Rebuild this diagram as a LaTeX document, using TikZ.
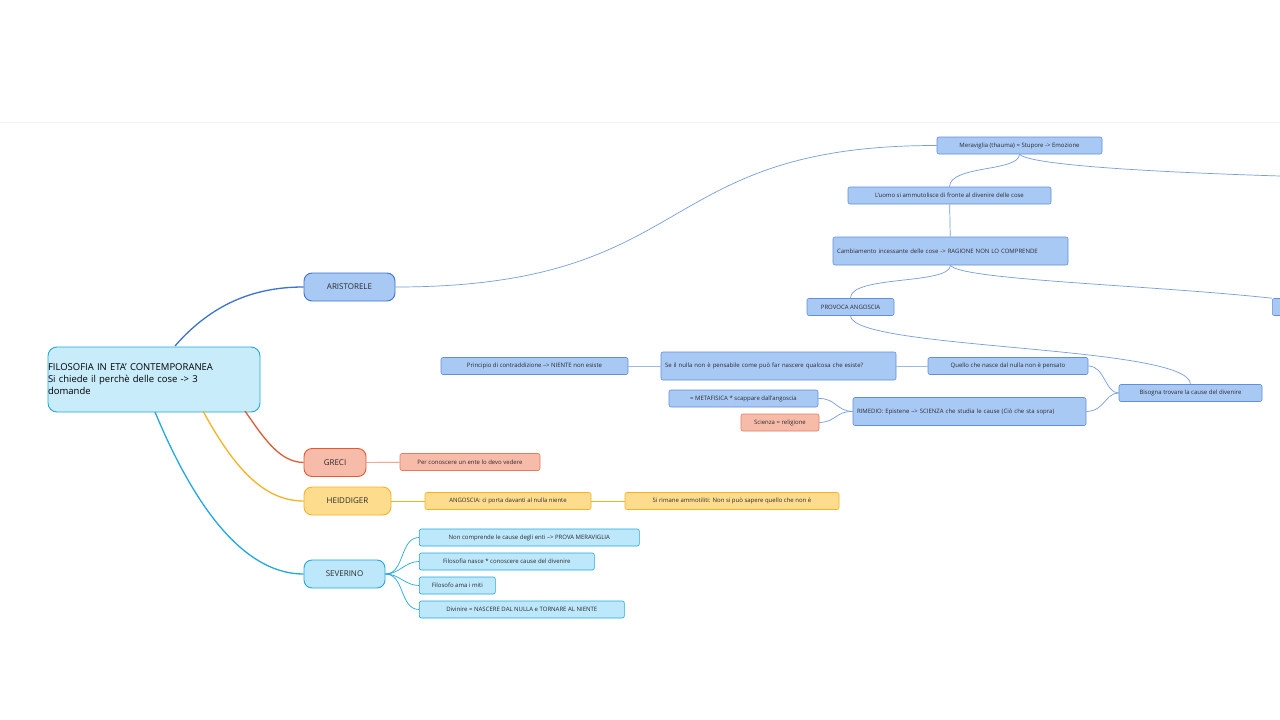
\documentclass[tikz,border=0pt]{standalone}
\usepackage{fontspec}
\setmainfont{Open Sans}
\usepackage{tikz}
\usetikzlibrary{positioning}

\definecolor{aribd}{HTML}{3B73D1}
\definecolor{arifill}{HTML}{A9C9F5}
\definecolor{grebd}{HTML}{E25A35}
\definecolor{grefill}{HTML}{F7BBAA}
\definecolor{heibd}{HTML}{F5B324}
\definecolor{heifill}{HTML}{FDDC8E}
\definecolor{sevbd}{HTML}{22A8E0}
\definecolor{sevfill}{HTML}{BDE7FA}
\definecolor{rootfill}{HTML}{C9ECFB}
\definecolor{txt}{HTML}{2B2B2B}

\begin{document}
\begin{tikzpicture}[
    x=1pt, y=-1pt,
    rootbox/.style={rectangle, draw=sevbd, fill=rootfill, line width=0.9pt, rounded corners=9pt, text width=212pt, align=left, inner sep=0pt, minimum height=65pt, font=\fontsize{9.5}{12}\selectfont, text=black},
    mainbox/.style={rectangle, draw, line width=0.9pt, rounded corners=8pt, minimum height=28pt, inner sep=0pt, font=\fontsize{8}{10}\selectfont, text=txt},
    leaf/.style={rectangle, draw, line width=0.6pt, rounded corners=2pt, minimum height=17pt, inner sep=0pt, font=\fontsize{6}{8}\selectfont, text=txt},
    arileaf/.style={leaf, draw=aribd!80, fill=arifill},
    greleaf/.style={leaf, draw=grebd!80, fill=grefill},
    heileaf/.style={leaf, draw=heibd, fill=heifill},
    sevleaf/.style={leaf, draw=sevbd, fill=sevfill},
    thick line/.style={line width=1.3pt},
    thin line/.style={line width=0.7pt}
  ]
    \useasboundingbox (0,0) rectangle (1280,720);
    \fill[white] (0,0) rectangle (1280,720);
    \draw[black!5] (0,122) -- (1280,122);

    % Main nodes
    \node[rootbox] (root) at (154,379.5) {FILOSOFIA IN ETA' CONTEMPORANEA\\Si chiede il perchè delle cose -> 3\\domande};
    \node[mainbox, draw=aribd, fill=arifill, minimum width=91pt] (ari) at (349.5,287) {ARISTORELE};
    \node[mainbox, draw=grebd, fill=grefill, minimum width=62pt] (gre) at (335,462.5) {GRECI};
    \node[mainbox, draw=heibd, fill=heifill, minimum width=87pt] (hei) at (347.5,501) {HEIDDIGER};
    \node[mainbox, draw=sevbd, fill=sevfill, minimum width=81pt] (sev) at (344.5,574) {SEVERINO};

    % Aristotele branch
    \node[arileaf, minimum width=165pt] (mer) at (1019.5,145.5) {Meraviglia (thauma) = Stupore -> Emozione};
    \node[arileaf, minimum width=203pt] (uomo) at (949.5,195.5) {L'uomo si ammutolisce di fronte al divenire delle cose};
    \node[arileaf, minimum width=235pt, minimum height=28pt, text width=227pt, align=left] (camb) at (950.5,251) {Cambiamento incessante delle cose -> RAGIONE NON LO COMPRENDE};
    \node[arileaf, minimum width=87pt] (prov) at (850.5,307) {PROVOCA ANGOSCIA};
    \node[arileaf, minimum width=40pt, anchor=west] (cut) at (1272,307) {};
    \node[arileaf, minimum width=143pt] (biso) at (1190.5,393) {Bisogna trovare la cause del divenire};
    \node[arileaf, minimum width=160pt] (quel) at (1008,366) {Quello che nasce dal nulla non è pensato};
    \node[arileaf, minimum width=235pt, minimum height=28pt, text width=227pt, align=left] (nulla) at (778.5,366) {Se il nulla non è pensabile come può far nascere qualcosa che esiste?};
    \node[arileaf, minimum width=187pt] (prin) at (534.5,366) {Principio di contraddizione --> NIENTE non esiste};
    \node[arileaf, minimum width=233pt, minimum height=28pt, text width=225pt, align=left] (rim) at (969.5,411.5) {RIMEDIO: Epistene --> SCIENZA che studia le cause (Ciò che sta sopra)};
    \node[arileaf, minimum width=149pt] (meta) at (743.5,398.5) {= METAFISICA * scappare dall'angoscia};
    \node[greleaf, minimum width=78pt] (scie) at (780,422.5) {Scienza = religione};

    % Other branches
    \node[greleaf, minimum width=140pt] (cono) at (470,462) {Per conoscere un ente lo devo vedere};
    \node[heileaf, minimum width=166pt] (ango) at (508,501) {ANGOSCIA: ci porta  davanti al nulla niente};
    \node[heileaf, minimum width=214pt] (rima) at (732,501) {Si rimane ammotiliti: Non si può sapere quello che non è};
    \node[sevleaf, minimum width=220pt, anchor=west] (s1) at (419,537.5) {Non comprende le cause degli enti --> PROVA MERAVIGLIA};
    \node[sevleaf, minimum width=175pt, anchor=west] (s2) at (419,561.5) {Filosofia nasce * conoscere cause del divenire};
    \node[sevleaf, minimum width=76pt, anchor=west] (s3) at (419,585.5) {Filosofo ama i miti};
    \node[sevleaf, minimum width=205pt, anchor=west] (s4) at (419,609.5) {Divinire = NASCERE DAL NULLA e TORNARE AL NIENTE};

    % Connectors from root
    \draw[thick line, aribd] (175,346) .. controls (215,300) and (260,287) .. (ari.west);
    \draw[thick line, grebd] (245,411) .. controls (265,440) and (280,462) .. (gre.west);
    \draw[thick line, heibd] (203,411) .. controls (235,470) and (265,501) .. (hei.west);
    \draw[thick line, sevbd] (155,412) .. controls (200,520) and (250,574) .. (sev.west);

    % Aristotele connectors
    \draw[thin line, aribd!70] (ari.east) .. controls (700,287) and (650,145) .. (mer.west);
    \draw[thin line, aribd!70] (mer.south) .. controls (1019,172) and (950,165) .. (uomo.north);
    \draw[thin line, aribd!70] (mer.south) .. controls (1030,165) and (1150,172) .. (1280,176);
    \draw[thin line, aribd!70] (uomo) -- (camb);
    \draw[thin line, aribd!70] (camb.south) .. controls (950,285) and (850,275) .. (prov.north);
    \draw[thin line, aribd!70] (camb.south) .. controls (960,280) and (1150,285) .. (cut.north west);
    \draw[thin line, aribd!70] (prov.south) .. controls (852,350) and (1190,345) .. (biso.north);
    \draw[thin line, aribd!70] (biso.west) .. controls (1105,393) and (1105,366) .. (quel.east);
    \draw[thin line, aribd!70] (biso.west) .. controls (1105,393) and (1105,411) .. (rim.east);
    \draw[thin line, aribd!50] (quel) -- (nulla);
    \draw[thin line, aribd!50] (nulla) -- (prin);
    \draw[thin line, aribd!70] (rim.west) .. controls (836,411) and (836,398) .. (meta.east);
    \draw[thin line, aribd!70] (rim.west) .. controls (836,411) and (836,422) .. (scie.east);

    % Other connectors
    \draw[thin line, grebd!80] (gre) -- (cono);
    \draw[thin line, heibd] (hei) -- (ango);
    \draw[thin line, heibd] (ango) -- (rima);
    \foreach \s in {s1,s2,s3,s4}
      \draw[thin line, sevbd] (sev.east) to[out=0, in=180] (\s.west);
\end{tikzpicture}
\end{document}
